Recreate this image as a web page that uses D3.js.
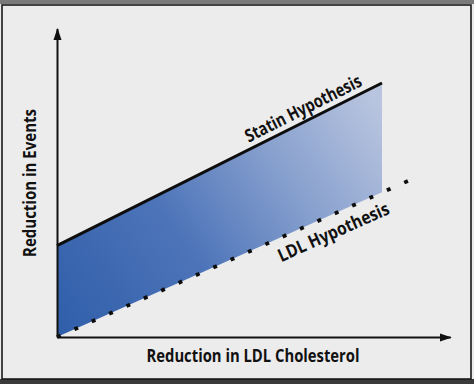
<!DOCTYPE html>
<html>
<head>
<meta charset="utf-8">
<script src="https://cdn.jsdelivr.net/npm/d3@7"></script>
<style>
  html, body { margin: 0; padding: 0; background: #ececec; }
  svg { display: block; }
  text { font-family: "Open Sans", "Noto Sans", sans-serif; font-weight: 700; fill: #111; }
</style>
</head>
<body>
<script>
// ---- data (conceptual units) ----
const xPoints      = [0, 10];        // LDL-reduction positions where the band is defined
const statinValues = [3.6, 10];      // "Statin Hypothesis" line
const ldlValues    = [0, 5.7];       // "LDL Hypothesis" line (start/end of band)
const ldlExtendX   = [0, 10.9];      // dotted LDL line runs a bit past the band
const ldlExtendY   = [0, 6.2];
const axisMax      = { x: 12.1, y: 12.15 };
const labels = {
  x: "Reduction in LDL Cholesterol",
  y: "Reduction in Events",
  statin: "Statin Hypothesis",
  ldl: "LDL Hypothesis"
};

const W = 474, H = 384;
const svg = d3.select("body").append("svg").attr("width", W).attr("height", H);

// page / frame
svg.append("rect").attr("width", W).attr("height", H).attr("fill", "#ececec");
svg.append("rect").attr("x", 0).attr("y", 0).attr("width", W).attr("height", 4).attr("fill", "#7a7a7a");
svg.append("rect").attr("x", 0).attr("y", 379).attr("width", W).attr("height", 5).attr("fill", "#3a3a3a");
svg.append("rect").attr("x", 2).attr("y", 5).attr("width", 469).attr("height", 374)
   .attr("fill", "none").attr("stroke", "#1a1a1a").attr("stroke-width", 1.6);

const x = d3.scaleLinear().domain([0, 10]).range([57, 382]);
const y = d3.scaleLinear().domain([0, 10]).range([337, 83]);

const defs = svg.append("defs");
const grad = defs.append("linearGradient").attr("id", "band")
  .attr("gradientUnits", "userSpaceOnUse")
  .attr("x1", x(0)).attr("y1", y(0)).attr("x2", x(10)).attr("y2", y(9));
grad.append("stop").attr("offset", "0%").attr("stop-color", "#2f5ea9");
grad.append("stop").attr("offset", "40%").attr("stop-color", "#4d74b9");
grad.append("stop").attr("offset", "72%").attr("stop-color", "#8aa2cf");
grad.append("stop").attr("offset", "100%").attr("stop-color", "#b9c5df");

defs.append("marker").attr("id", "arrow").attr("viewBox", "0 0 12 10")
  .attr("refX", 11).attr("refY", 5).attr("markerWidth", 12).attr("markerHeight", 10)
  .attr("markerUnits", "userSpaceOnUse").attr("orient", "auto")
  .append("path").attr("d", "M0,1 L12,5 L0,9 Z").attr("fill", "#111");

// band between the two hypotheses
const bandData = xPoints.map((v, i) => ({ x: v, hi: statinValues[i], lo: ldlValues[i] }));
svg.append("path").datum(bandData)
  .attr("d", d3.area().x(d => x(d.x)).y0(d => y(d.lo)).y1(d => y(d.hi)))
  .attr("fill", "url(#band)");

// statin line
svg.append("path").datum(bandData)
  .attr("d", d3.line().x(d => x(d.x)).y(d => y(d.hi)))
  .attr("stroke", "#0d0d0d").attr("stroke-width", 3).attr("fill", "none");

// LDL dotted line
const ldlLine = ldlExtendX.map((v, i) => ({ x: v, y: ldlExtendY[i] }));
svg.append("path").datum(ldlLine)
  .attr("d", d3.line().x(d => x(d.x)).y(d => y(d.y)))
  .attr("stroke", "#0d0d0d").attr("stroke-width", 3.8).attr("fill", "none")
  .attr("stroke-dasharray", "4 15");

// axes (no ticks) with arrowheads
const xAxisScale = d3.scaleLinear().domain([0, axisMax.x]).range([x(0), x(axisMax.x)]);
const yAxisScale = d3.scaleLinear().domain([0, axisMax.y]).range([y(0), y(axisMax.y)]);
const gx = svg.append("g").attr("transform", `translate(0,${y(0)})`)
  .call(d3.axisBottom(xAxisScale).tickValues([]).tickSizeOuter(0));
gx.select(".domain").attr("stroke", "#111").attr("stroke-width", 2).attr("marker-end", "url(#arrow)");
const gy = svg.append("g").attr("transform", `translate(${x(0)},0)`)
  .call(d3.axisLeft(yAxisScale).tickValues([]).tickSizeOuter(0));
gy.select(".domain").attr("stroke", "#111").attr("stroke-width", 2).attr("marker-end", "url(#arrow)");

// axis titles
svg.append("text").attr("x", 253).attr("y", 362).attr("text-anchor", "middle")
  .attr("font-size", 18).attr("textLength", 213).attr("lengthAdjust", "spacingAndGlyphs")
  .text(labels.x);
svg.append("text").attr("transform", "translate(36,183) rotate(-90)").attr("text-anchor", "middle")
  .attr("font-size", 18).attr("textLength", 148).attr("lengthAdjust", "spacingAndGlyphs")
  .text(labels.y);

// line labels
const statinAngle = Math.atan2(y(statinValues[0]) - y(statinValues[1]), x(10) - x(0)) * 180 / Math.PI;
const sx = 306, sy = y(statinValues[0] + (statinValues[1] - statinValues[0]) * x.invert(sx) / 10) - 7;
svg.append("text").attr("transform", `translate(${sx},${sy}) rotate(${-statinAngle})`)
  .attr("text-anchor", "middle").attr("font-size", 18)
  .attr("textLength", 128).attr("lengthAdjust", "spacingAndGlyphs")
  .text(labels.statin);

const ldlAngle = Math.atan2(y(0) - y(ldlValues[1]), x(10) - x(0)) * 180 / Math.PI;
const lx = 336, ly = y(ldlValues[1] * x.invert(lx) / 10) + 25;
svg.append("text").attr("transform", `translate(${lx},${ly}) rotate(${-ldlAngle})`)
  .attr("text-anchor", "middle").attr("font-size", 18)
  .attr("textLength", 120).attr("lengthAdjust", "spacingAndGlyphs")
  .text(labels.ldl);
</script>
</body>
</html>
